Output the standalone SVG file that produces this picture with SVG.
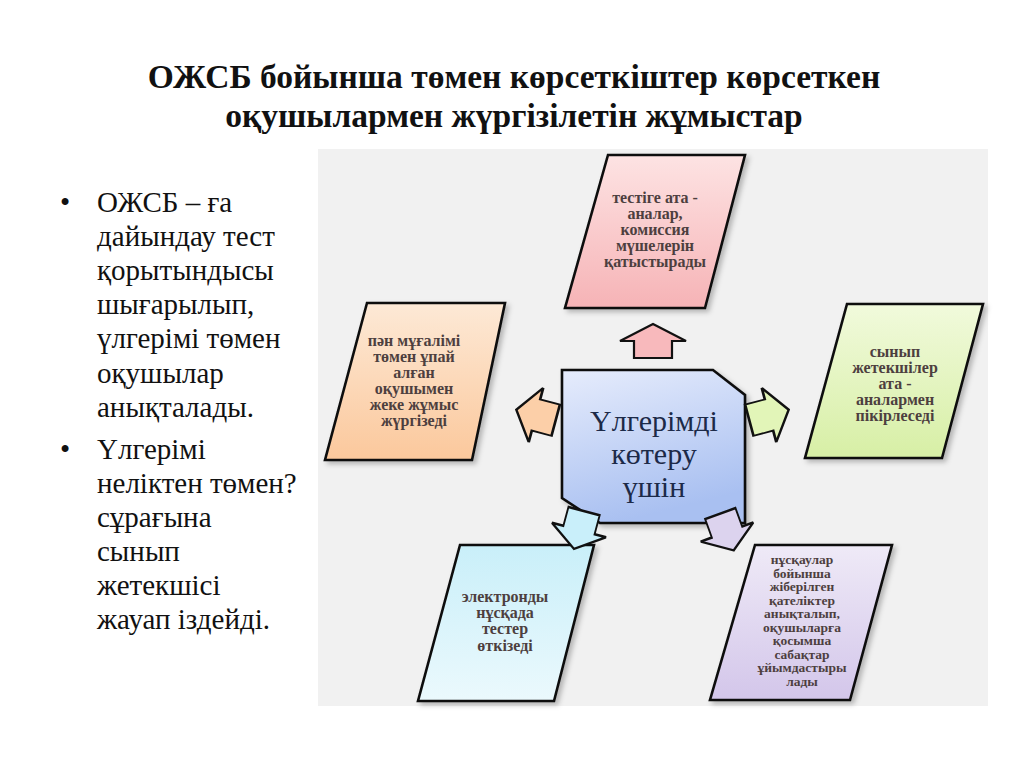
<svg xmlns="http://www.w3.org/2000/svg" width="1024" height="767" viewBox="0 0 1024 767">
<style>
.title{font-family:"Liberation Serif","DejaVu Serif",serif;font-weight:bold;font-size:33.5px;fill:#111;text-anchor:middle}
.body{font-family:"Liberation Serif","DejaVu Serif",serif;font-size:29px;fill:#111}
.pl{stroke:#111;stroke-width:2.6;stroke-linejoin:miter}
.lbl{font-family:"Liberation Serif","DejaVu Serif",serif;font-weight:bold;fill:#4d3f3f;text-anchor:middle}
.ctr{font-family:"Liberation Serif","DejaVu Serif",serif;font-size:30px;fill:#1c2a48;text-anchor:middle}
.arr{stroke:#111;stroke-width:2.2;stroke-linejoin:miter}
</style>
<defs>
<linearGradient id="gPink" x1="0" y1="0" x2="0" y2="1"><stop offset="0" stop-color="#fde3e3"/><stop offset="1" stop-color="#f6b3b6"/></linearGradient>
<linearGradient id="gOrange" x1="0" y1="0" x2="0" y2="1"><stop offset="0" stop-color="#fde9d6"/><stop offset="1" stop-color="#fbc89c"/></linearGradient>
<linearGradient id="gGreen" x1="0" y1="0" x2="0" y2="1"><stop offset="0" stop-color="#f1fadc"/><stop offset="1" stop-color="#d7efa5"/></linearGradient>
<linearGradient id="gCyan" x1="0" y1="0" x2="0" y2="1"><stop offset="0" stop-color="#c9eff9"/><stop offset="1" stop-color="#ebf9fd"/></linearGradient>
<linearGradient id="gPurple" x1="0" y1="0" x2="0" y2="1"><stop offset="0" stop-color="#efeaf7"/><stop offset="1" stop-color="#d3c6ea"/></linearGradient>
<linearGradient id="gBlue" x1="0" y1="0" x2="0.3" y2="1"><stop offset="0" stop-color="#e6ecfc"/><stop offset="1" stop-color="#a9c0f1"/></linearGradient>
<filter id="sh" x="-10%" y="-10%" width="130%" height="130%"><feDropShadow dx="3" dy="3" stdDeviation="2.5" flood-color="#000" flood-opacity="0.25"/></filter>
<path id="arrow" d="M0,-17 L33,0 L19,0 L19,17 L-19,17 L-19,0 L-33,0 Z"/>
</defs>
<rect width="1024" height="767" fill="#ffffff"/>
<rect x="318" y="149" width="670" height="557" fill="#f1f1f1"/>

<g id="title">
<text class="title" x="514" y="88">ОЖСБ бойынша төмен көрсеткіштер көрсеткен</text>
<text class="title" x="514" y="127">оқушылармен жүргізілетін жұмыстар</text>
</g>

<g id="bullets">
<text class="body" x="60" y="212">•</text>
<text class="body" x="97" y="212">ОЖСБ – ға</text>
<text class="body" x="97" y="246">дайындау тест</text>
<text class="body" x="97" y="280">қорытындысы</text>
<text class="body" x="97" y="314">шығарылып,</text>
<text class="body" x="97" y="348">үлгерімі төмен</text>
<text class="body" x="97" y="383">оқушылар</text>
<text class="body" x="97" y="417">анықталады.</text>
<text class="body" x="60" y="459">•</text>
<text class="body" x="97" y="459">Үлгерімі</text>
<text class="body" x="97" y="493">неліктен төмен?</text>
<text class="body" x="97" y="527">сұрағына</text>
<text class="body" x="97" y="561">сынып</text>
<text class="body" x="97" y="595">жетекшісі</text>
<text class="body" x="97" y="629">жауап іздейді.</text>
</g>

<g id="node-top">
<polygon class="pl" points="608,155 745,155 705,308 565,308" fill="url(#gPink)" filter="url(#sh)"/>
<g class="lbl" font-size="16">
<text x="655" y="203">тестіге ата -</text>
<text x="655" y="219">аналар,</text>
<text x="655" y="235">комиссия</text>
<text x="655" y="251">мүшелерін</text>
<text x="655" y="267">қатыстырады</text>
</g>
</g>

<g id="node-left">
<polygon class="pl" points="367,303 505,303 472,460 325,460" fill="url(#gOrange)" filter="url(#sh)"/>
<g class="lbl" font-size="16">
<text x="414" y="346">пән мұғалімі</text>
<text x="414" y="362">төмен ұпай</text>
<text x="414" y="378">алған</text>
<text x="414" y="394">оқушымен</text>
<text x="414" y="410">жеке жұмыс</text>
<text x="414" y="426">жүргізеді</text>
</g>
</g>

<g id="node-right">
<polygon class="pl" points="847,304 983,304 942,458 805,458" fill="url(#gGreen)" filter="url(#sh)"/>
<g class="lbl" font-size="16">
<text x="895" y="357">сынып</text>
<text x="895" y="373">жетекшілер</text>
<text x="895" y="389">ата -</text>
<text x="895" y="405">аналармен</text>
<text x="895" y="421">пікірлеседі</text>
</g>
</g>

<g id="node-center">
<polygon class="pl" points="562,370 713,370 745,395 745,523 600,523 562,498" fill="url(#gBlue)" stroke-width="3" filter="url(#sh)"/>
<text class="ctr" x="654" y="431">Үлгерімді</text>
<text class="ctr" x="654" y="464">көтеру</text>
<text class="ctr" x="654" y="497">үшін</text>
</g>

<g id="node-bottom-left">
<polygon class="pl" points="460,545 594,545 554,701 418,701" fill="url(#gCyan)" filter="url(#sh)"/>
<g class="lbl" font-size="16">
<text x="505" y="602">электронды</text>
<text x="505" y="618">нұсқада</text>
<text x="505" y="634">тестер</text>
<text x="505" y="651">өткізеді</text>
</g>
</g>

<g id="node-bottom-right">
<polygon class="pl" points="755,545 892,545 850,700 710,700" fill="url(#gPurple)" filter="url(#sh)"/>
<g class="lbl" font-size="13.5">
<text x="802" y="564">нұсқаулар</text>
<text x="802" y="578">бойынша</text>
<text x="802" y="591">жіберілген</text>
<text x="802" y="605">қателіктер</text>
<text x="802" y="618">анықталып,</text>
<text x="802" y="632">оқушыларға</text>
<text x="802" y="645">қосымша</text>
<text x="802" y="659">сабақтар</text>
<text x="802" y="672">ұйымдастыры</text>
<text x="802" y="686">лады</text>
</g>
</g>

<g id="connectors">
<use href="#arrow" class="arr" fill="#f8b9bc" transform="translate(653,341)"/>
<use href="#arrow" class="arr" fill="#fccfa8" transform="translate(536,415) rotate(-75) scale(0.85,1.2)"/>
<use href="#arrow" class="arr" fill="#e2f5b8" transform="translate(769,415) rotate(75) scale(0.85,1.2)"/>
<use href="#arrow" class="arr" fill="#c9effa" transform="translate(579,530) rotate(195) scale(0.85,1.15)"/>
<use href="#arrow" class="arr" fill="#dcd3ee" transform="translate(727,532) rotate(160) scale(0.85,1.15)"/>
</g>
</svg>
